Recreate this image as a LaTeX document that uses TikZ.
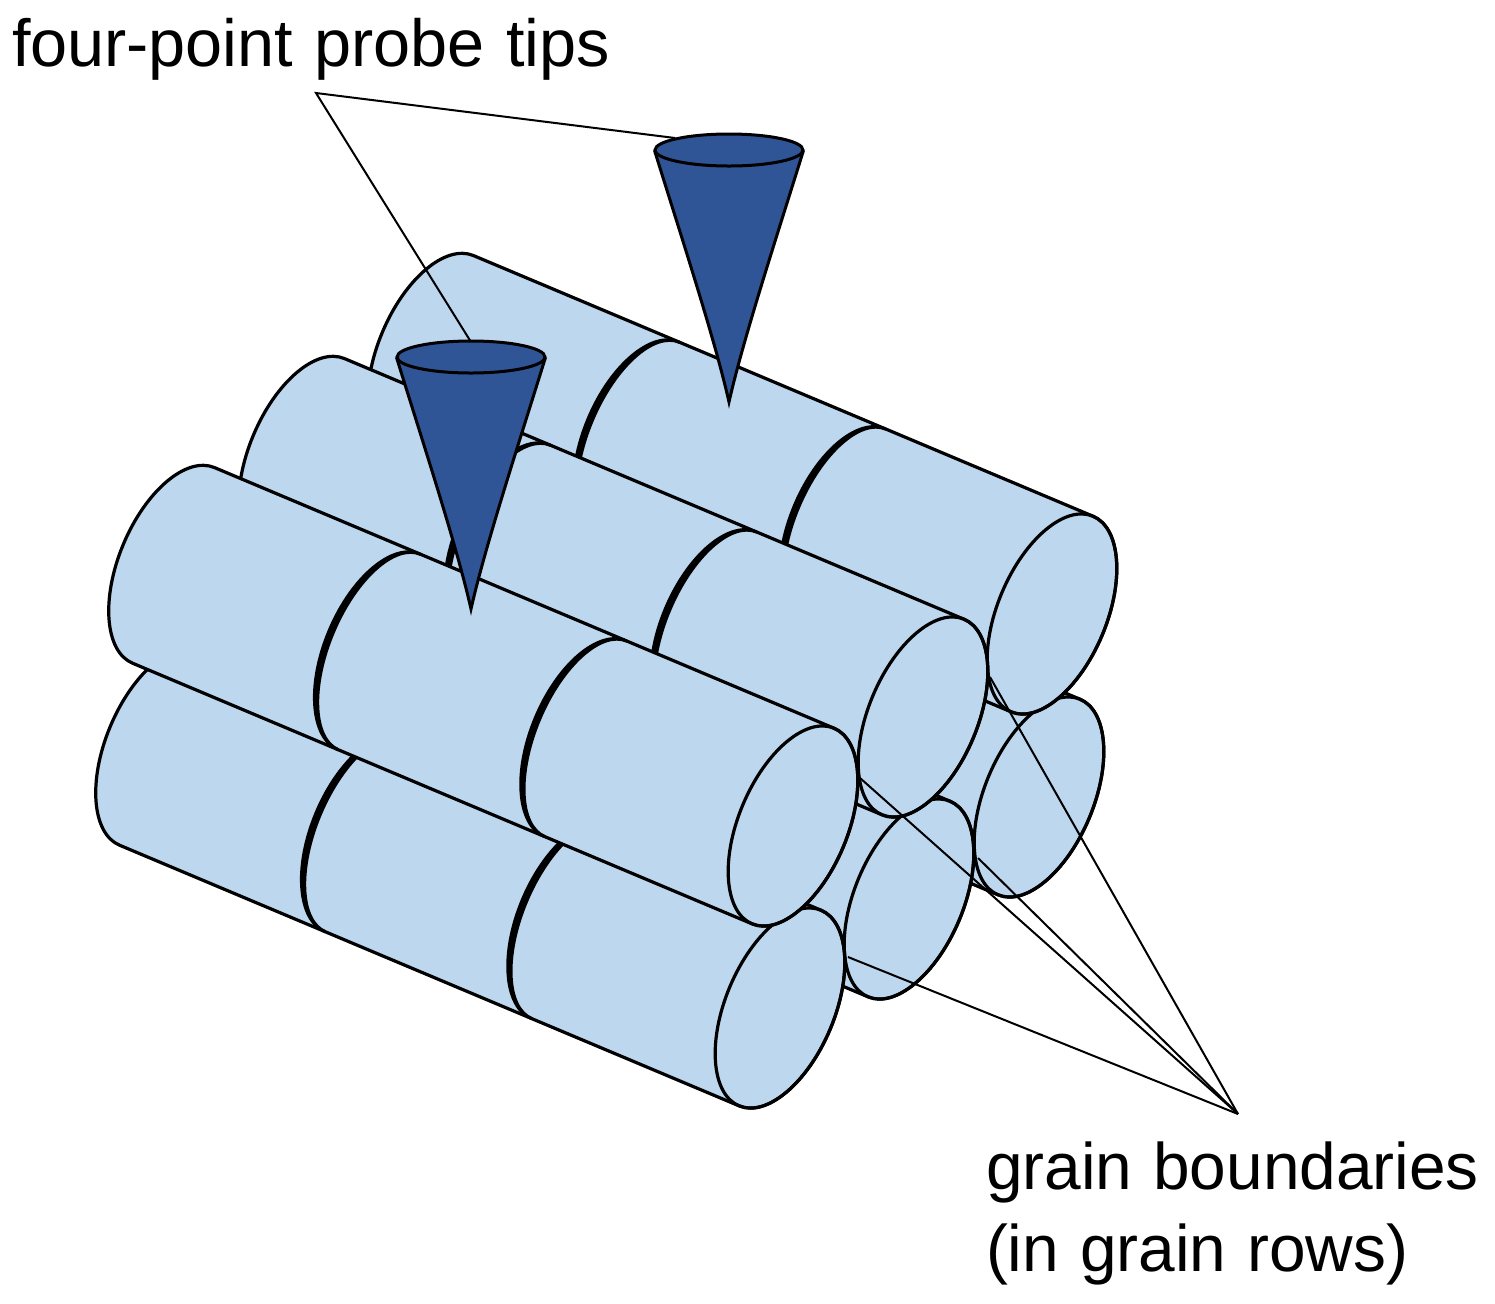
\documentclass[tikz,border=0pt]{standalone}
\usepackage{fontspec}
\setmainfont[WordSpace=1.15]{Liberation Sans}
\definecolor{grainblue}{HTML}{BDD7EE}
\definecolor{tipblue}{HTML}{2F5597}
\tikzset{
  grainbody/.style={fill=grainblue,draw=black,line width=1.6pt,line join=round},
  grainedge/.style={fill=black,draw=black,line width=1.6pt},
  tipbody/.style={fill=tipblue,draw=black,line width=1.5pt,line join=miter},
  leader/.style={draw=black,line width=1pt},
  toptext/.style={inner sep=0pt,outer sep=0pt,font=\fontsize{33.3}{41}\selectfont,align=left},
  lowtext/.style={inner sep=0pt,outer sep=0pt,font=\fontsize{32.9}{41}\selectfont,align=left}
}
\newcommand{\grainedgearc}[1]{%
  \path[grainedge] (#1,10) arc[start angle=90,end angle=270,radius=10]
    arc[start angle=270,end angle=90,x radius=9.2,y radius=10] -- cycle;}
\newcommand{\grainrow}[2]{%
  \begin{scope}[shift={(#1,#2)}]
    \begin{scope}[x=1pt,y=1pt,cm={2.51,-1.056,2.05,4.89,(0,0)}]
      \path[grainbody] (0,10) -- (-123.4,10) arc[start angle=90,end angle=270,radius=10]
        -- (0,-10) arc[start angle=-90,end angle=90,radius=10] -- cycle;
      \grainedgearc{-41.3}
      \grainedgearc{-82.4}
      \draw[line width=1.6pt] (0,0) circle[radius=10];
    \end{scope}
  \end{scope}}
\newcommand{\probetip}[2]{%
  \begin{scope}[shift={(#1,#2)}]
    \path[tipbody] (-74,2) .. controls (-46,92) and (-14,190) .. (0,252)
      .. controls (14,190) and (46,92) .. (74,2) -- cycle;
    \path[tipbody] (0,0) ellipse[x radius=74,y radius=16];
  \end{scope}}
\begin{document}
\begin{tikzpicture}[x=0.5pt,y=-0.5pt]
  \useasboundingbox (0,0) rectangle (1495,1303);
  \fill[white] (0,0) rectangle (1495,1303);
  % bottom layer, back to front
  \grainrow{1039}{797}
  \grainrow{909}{899}
  \grainrow{780}{1008}
  % top layer, back to front
  \grainrow{1052}{614}
  \grainrow{923}{717}
  \grainrow{793}{826}
  % labels
  \node[toptext,anchor=base west] (tipsLabel) at (12,66) {four-point probe tips};
  \node[lowtext,anchor=north west] (gbLabel) at (986,1142) {grain boundaries\\(in grain rows)};
  % leaders
  \coordinate (tipsHub) at (316,93);
  \coordinate (tipA) at (675,138);
  \coordinate (tipB) at (471,342);
  \coordinate (gbHub) at (1238,1114);
  \coordinate (gbA) at (990,677);
  \coordinate (gbB) at (860,778);
  \coordinate (gbC) at (978,858);
  \coordinate (gbD) at (848,957);
  \draw[leader] (tipA) -- (tipsHub) -- (tipB);
  \draw[leader] (gbA) -- (gbHub);
  \draw[leader] (gbB) -- (gbHub);
  \draw[leader] (gbC) -- (gbHub);
  \draw[leader] (gbD) -- (gbHub);
  % probe tips
  \probetip{729}{150}
  \probetip{471}{357}
\end{tikzpicture}
\end{document}
